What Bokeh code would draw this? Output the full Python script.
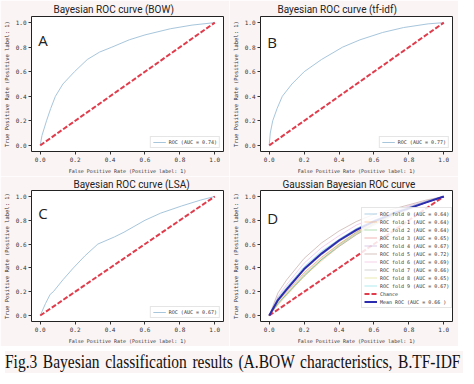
from bokeh.plotting import figure
from bokeh.models import Range1d, Label, Legend, LegendItem, Div, FixedTicker, PrintfTickFormatter
from bokeh.layouts import column, row
from bokeh.embed import file_html
from bokeh.resources import INLINE

# ---------------- data ----------------
diag = [0.0, 1.0]

bow_fpr = [0.0, 0.01, 0.036, 0.06, 0.087, 0.13, 0.196, 0.27, 0.34, 0.41, 0.51, 0.6, 0.745, 0.87, 1.0]
bow_tpr = [0.0, 0.08, 0.2, 0.3, 0.4, 0.5, 0.6, 0.7, 0.76, 0.8, 0.86, 0.9, 0.95, 0.98, 1.0]
bow_auc = 0.74

tfidf_fpr = [0.0, 0.006, 0.02, 0.045, 0.075, 0.13, 0.2, 0.3, 0.42, 0.52, 0.65, 0.77, 0.91, 1.0]
tfidf_tpr = [0.0, 0.1, 0.2, 0.3, 0.4, 0.5, 0.6, 0.7, 0.8, 0.86, 0.92, 0.96, 0.99, 1.0]
tfidf_auc = 0.77

lsa_fpr = [0.0, 0.03, 0.057, 0.075, 0.13, 0.19, 0.255, 0.33, 0.425, 0.48, 0.6, 0.69, 0.81, 0.92, 1.0]
lsa_tpr = [0.0, 0.1, 0.178, 0.2, 0.3, 0.4, 0.5, 0.6, 0.66, 0.7, 0.8, 0.86, 0.92, 0.97, 1.0]
lsa_auc = 0.67

fold_fpr = [0.0, 0.05, 0.1, 0.2, 0.3, 0.4, 0.5, 0.6, 0.7, 0.8, 0.9, 1.0]
fold0_tpr = [0.0, 0.10, 0.18, 0.34, 0.47, 0.58, 0.68, 0.76, 0.83, 0.89, 0.95, 1.0]
fold1_tpr = [0.0, 0.09, 0.17, 0.33, 0.46, 0.58, 0.68, 0.77, 0.84, 0.90, 0.95, 1.0]
fold2_tpr = [0.0, 0.10, 0.18, 0.33, 0.47, 0.59, 0.69, 0.77, 0.84, 0.90, 0.95, 1.0]
fold3_tpr = [0.0, 0.12, 0.20, 0.36, 0.49, 0.60, 0.70, 0.78, 0.85, 0.90, 0.95, 1.0]
fold4_tpr = [0.0, 0.14, 0.23, 0.40, 0.53, 0.64, 0.73, 0.80, 0.86, 0.91, 0.96, 1.0]
fold5_tpr = [0.0, 0.19, 0.30, 0.48, 0.61, 0.71, 0.79, 0.85, 0.89, 0.93, 0.97, 1.0]
fold6_tpr = [0.0, 0.16, 0.26, 0.44, 0.57, 0.67, 0.76, 0.82, 0.87, 0.92, 0.96, 1.0]
fold7_tpr = [0.0, 0.13, 0.21, 0.38, 0.51, 0.62, 0.71, 0.79, 0.85, 0.90, 0.95, 1.0]
fold8_tpr = [0.0, 0.11, 0.19, 0.35, 0.48, 0.60, 0.70, 0.78, 0.84, 0.90, 0.95, 1.0]
fold9_tpr = [0.0, 0.15, 0.24, 0.41, 0.54, 0.64, 0.73, 0.80, 0.86, 0.91, 0.96, 1.0]
fold_tprs = [fold0_tpr, fold1_tpr, fold2_tpr, fold3_tpr, fold4_tpr,
             fold5_tpr, fold6_tpr, fold7_tpr, fold8_tpr, fold9_tpr]
fold_aucs = [0.64, 0.64, 0.64, 0.65, 0.67, 0.72, 0.69, 0.66, 0.65, 0.67]
mean_tpr = [0.0, 0.13, 0.22, 0.39, 0.52, 0.63, 0.72, 0.79, 0.85, 0.90, 0.95, 1.0]
mean_auc = 0.66

ticks = [0.0, 0.2, 0.4, 0.6, 0.8, 1.0]

# ---------------- style ----------------
BG = "#fbf4f4"
CURVE = "#a7c6dc"
CHANCE = "#e03c4c"
MEAN = "#2b2bb0"
FOLD_COLORS = ["#1f77b4", "#ff7f0e", "#2ca02c", "#d62728", "#9467bd",
               "#8c564b", "#e377c2", "#7f7f7f", "#bcbd22", "#17becf"]
MONO = "DejaVu Sans Mono"
TITLE_FONT = "Roboto"


def base_fig(h, top, bottom, title, title_offset, title_standoff):
    p = figure(width=229, height=h, x_range=Range1d(-0.05, 1.05), y_range=Range1d(-0.05, 1.05),
               output_backend="svg", toolbar_location=None, title=title,
               min_border_left=31, min_border_right=6, min_border_top=top, min_border_bottom=bottom,
               border_fill_color=BG, background_fill_color="white",
               outline_line_color="#222", outline_line_width=1)
    p.title.align = "left"
    p.title.offset = title_offset
    p.title.standoff = title_standoff
    p.title.text_font = TITLE_FONT
    p.title.text_font_size = "10px"
    p.title.text_font_style = "normal"
    p.title.text_color = "#222"
    p.grid.visible = False
    for ax in (p.xaxis[0], p.yaxis[0]):
        ax.ticker = FixedTicker(ticks=ticks)
        ax.formatter = PrintfTickFormatter(format="%.1f")
        ax.axis_line_color = None
        ax.major_tick_out = 3
        ax.major_tick_in = 0
        ax.minor_tick_out = 0
        ax.minor_tick_in = 0
        ax.major_tick_line_color = "#333"
        ax.major_label_text_font = MONO
        ax.major_label_text_font_size = "6px"
        ax.major_label_text_color = "#333"
        ax.major_label_standoff = 2
        ax.axis_label_text_font = MONO
        ax.axis_label_text_font_style = "normal"
        ax.axis_label_text_color = "#333"
        ax.axis_label_standoff = 3
    p.xaxis.axis_label = "False Positive Rate (Positive label: 1)"
    p.xaxis.axis_label_text_font_size = "5px"
    p.yaxis.axis_label = "True Positive Rate (Positive label: 1)"
    p.yaxis.axis_label_text_font_size = "5.5px"
    return p


def add_letter(p, letter, y):
    p.add_layout(Label(x=-0.012, y=y, text=letter, text_font="Open Sans", text_font_size="15px",
                       text_baseline="alphabetic", text_color="#222"))


def style_legend(lg):
    lg.label_text_font = MONO
    lg.label_text_font_size = "5px"
    lg.label_text_color = "#333"
    lg.label_height = 6
    lg.glyph_height = 6
    lg.glyph_width = 13
    lg.label_standoff = 3
    lg.spacing = 0
    lg.padding = 2
    lg.margin = 3
    lg.border_line_color = "#cccccc"
    lg.background_fill_alpha = 0.85


def single_panel(h, top, bottom, fpr, tpr, auc, letter, title, t_off, t_stand, y_letter):
    p = base_fig(h, top, bottom, title, t_off, t_stand)
    r = p.line(fpr, tpr, line_color=CURVE, line_width=1)
    p.line(diag, diag, line_color=CHANCE, line_width=2, line_dash="5 2")
    lg = Legend(items=[LegendItem(label="ROC (AUC = %.2f)" % auc, renderers=[r])], location="bottom_right")
    style_legend(lg)
    p.add_layout(lg)
    add_letter(p, letter, y_letter)
    return p


pA = single_panel(176, 16, 21, bow_fpr, bow_tpr, bow_auc, "A",
                  "Bayesian ROC curve (BOW)", 22, 3, 0.855)
pB = single_panel(176, 16, 21, tfidf_fpr, tfidf_tpr, tfidf_auc, "B",
                  "Bayesian ROC curve (tf-idf)", 17, 3, 0.84)
pC = single_panel(170, 12, 20, lsa_fpr, lsa_tpr, lsa_auc, "C",
                  "Bayesian ROC curve (LSA)", 42, 1, 0.857)

pD = base_fig(170, 12, 20, "Gaussian Bayesian ROC curve", 22, 1)
items = []
for i, (tpr, auc) in enumerate(zip(fold_tprs, fold_aucs)):
    r = pD.line(fold_fpr, tpr, line_color=FOLD_COLORS[i], line_alpha=0.35, line_width=1)
    items.append(LegendItem(label="ROC fold %d (AUC = %.2f)" % (i, auc), renderers=[r]))
rc = pD.line(diag, diag, line_color=CHANCE, line_width=2, line_dash="5 2")
items.append(LegendItem(label="Chance", renderers=[rc]))
rm = pD.line(fold_fpr, mean_tpr, line_color=MEAN, line_width=2)
items.append(LegendItem(label="Mean ROC (AUC = %.2f )" % mean_auc, renderers=[rm]))
lgD = Legend(items=items, location=(101, 13))
style_legend(lgD)
lgD.label_height = 7
lgD.glyph_height = 7
lgD.spacing = 1
pD.add_layout(lgD)
add_letter(pD, "D", 0.82)

caption = Div(
    text='<span style="display:inline-block; transform:scaleX(0.86); transform-origin:left top; '
         'white-space:nowrap; word-spacing:2px;">Fig.3 Bayesian classification results '
         '(A.BOW characteristics, B.TF-IDF</span>',
    width=458, height=22,
    styles={"font-family": "Liberation Serif", "font-size": "18px", "line-height": "22px",
            "overflow": "hidden", "background-color": BG, "color": "#111"})

layout = column(row(pA, pB), row(pC, pD), caption)

open("out.html", "w").write(file_html(layout, INLINE))
